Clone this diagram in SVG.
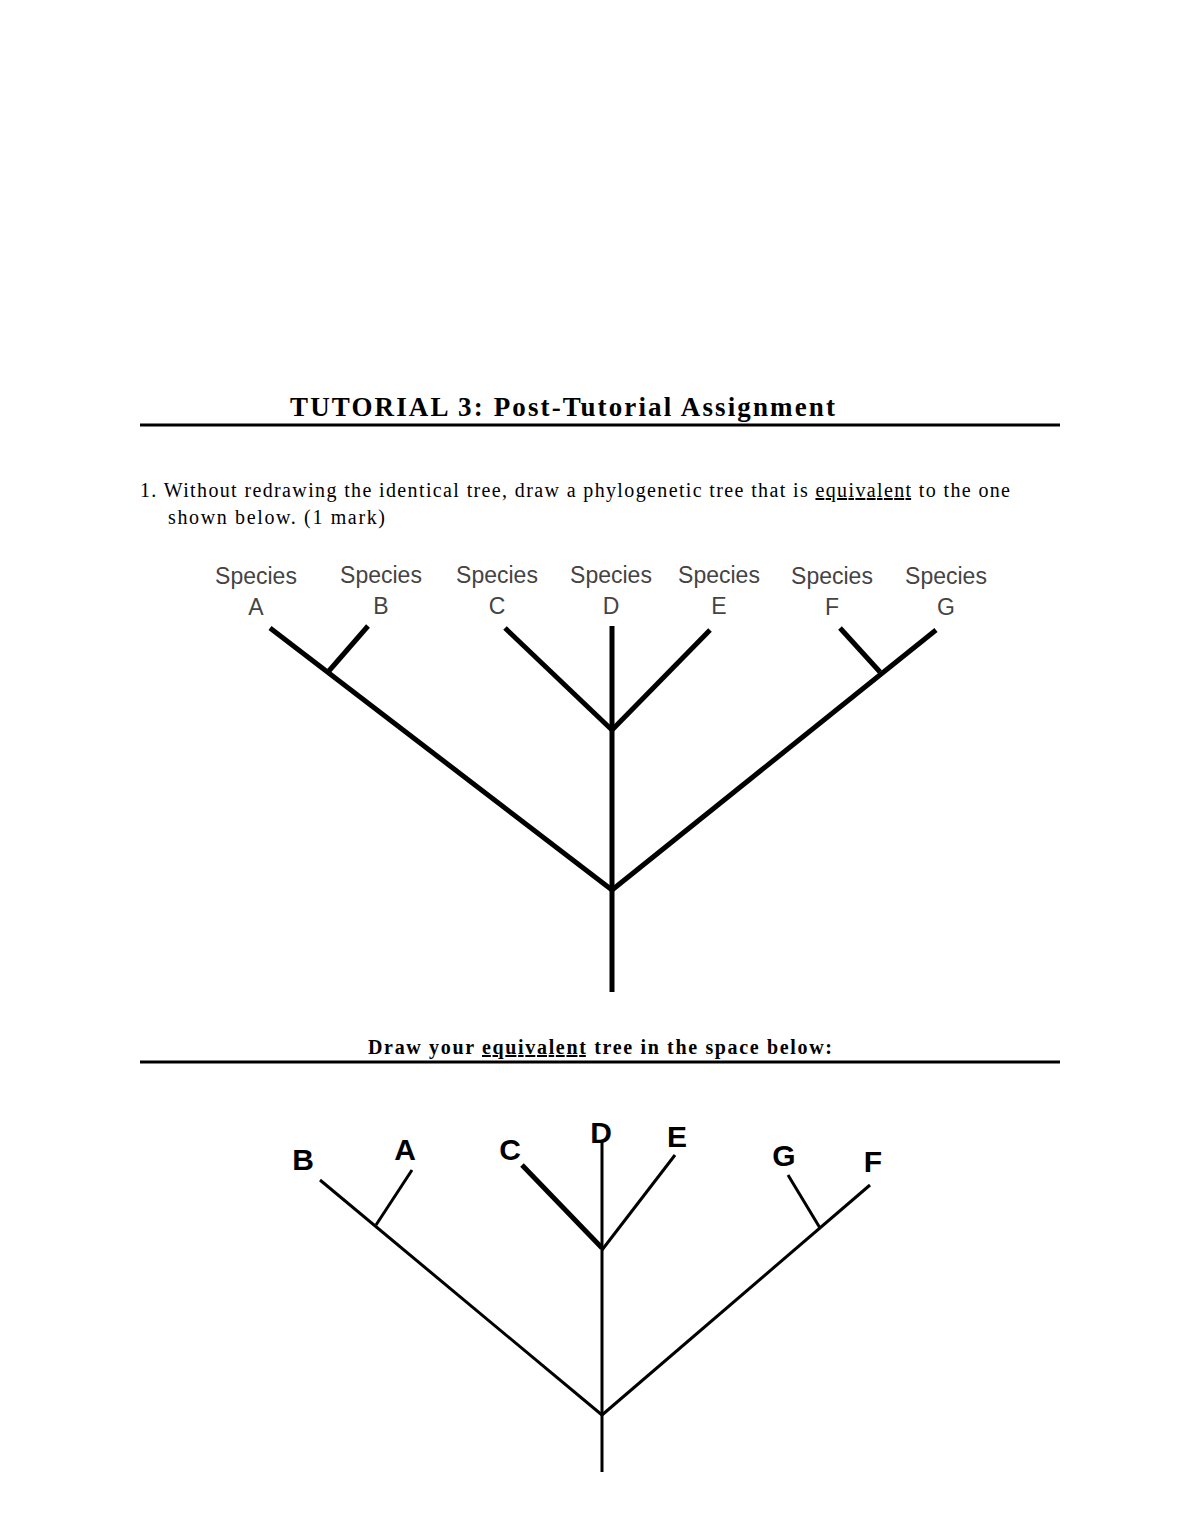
<svg xmlns="http://www.w3.org/2000/svg" width="1200" height="1530" viewBox="0 0 1200 1530">
<style>
.s{font-family:"Liberation Serif",serif;fill:#000}
.sp{font-family:"Liberation Sans",Arial,sans-serif;font-size:23px;fill:#444;text-anchor:middle}
.h{font-family:"Liberation Sans",sans-serif;font-weight:bold;font-size:30px;fill:#000;text-anchor:middle}
.t{stroke:#000;stroke-width:5;fill:none;stroke-linecap:butt}
.b{stroke:#000;stroke-width:3;fill:none}
</style>
<rect width="1200" height="1530" fill="#fff"/>
<g id="header">
<text class="s" x="290" y="416" font-size="27" font-weight="bold" textLength="545" lengthAdjust="spacing">TUTORIAL 3: Post-Tutorial Assignment</text>
<line x1="140" y1="425" x2="1060" y2="425" stroke="#000" stroke-width="3"/>
<text class="s" x="140" y="497" font-size="20" textLength="870" lengthAdjust="spacing">1. Without redrawing the identical tree, draw a phylogenetic tree that is <tspan text-decoration="underline">equivalent</tspan> to the one</text>
<text class="s" x="168" y="524" font-size="20" textLength="217" lengthAdjust="spacing">shown below. (1 mark)</text>
</g>
<g id="labels-top">
<text class="sp" x="256" y="584">Species</text><text class="sp" x="256" y="615">A</text>
<text class="sp" x="381" y="583">Species</text><text class="sp" x="381" y="614">B</text>
<text class="sp" x="497" y="583">Species</text><text class="sp" x="497" y="614">C</text>
<text class="sp" x="611" y="583">Species</text><text class="sp" x="611" y="614">D</text>
<text class="sp" x="719" y="583">Species</text><text class="sp" x="719" y="614">E</text>
<text class="sp" x="832" y="584">Species</text><text class="sp" x="832" y="615">F</text>
<text class="sp" x="946" y="584">Species</text><text class="sp" x="946" y="615">G</text>
</g>
<g id="connectors">
<g class="t">
<line x1="270" y1="628" x2="612" y2="890"/>
<line x1="368" y1="626" x2="328" y2="672"/>
<line x1="505" y1="628" x2="612" y2="730"/>
<line x1="612" y1="626" x2="612" y2="992"/>
<line x1="710" y1="630" x2="612" y2="730"/>
<line x1="840" y1="628" x2="880" y2="672"/>
<line x1="936" y1="630" x2="612" y2="890"/>
</g>
<g class="b">
<line x1="320" y1="1180" x2="602" y2="1415"/>
<line x1="412" y1="1170" x2="376" y2="1225"/>
<line x1="522" y1="1165" x2="602" y2="1248" stroke-width="5"/>
<line x1="602" y1="1142" x2="602" y2="1472"/>
<line x1="675" y1="1155" x2="602" y2="1250"/>
<line x1="788" y1="1175" x2="820" y2="1228"/>
<line x1="870" y1="1185" x2="602" y2="1415"/>
</g>
</g>
<g id="section2">
<text class="s" x="368" y="1054" font-size="20" font-weight="bold" textLength="464" lengthAdjust="spacing">Draw your <tspan text-decoration="underline">equivalent</tspan> tree in the space below:</text>
<line x1="140" y1="1062" x2="1060" y2="1062" stroke="#000" stroke-width="3"/>
</g>
<g id="labels-bottom">
<text class="h" x="303" y="1170">B</text>
<text class="h" x="405" y="1160">A</text>
<text class="h" x="510" y="1160">C</text>
<text class="h" x="601" y="1143">D</text>
<text class="h" x="677" y="1147">E</text>
<text class="h" x="784" y="1166">G</text>
<text class="h" x="873" y="1172">F</text>
</g>
</svg>
